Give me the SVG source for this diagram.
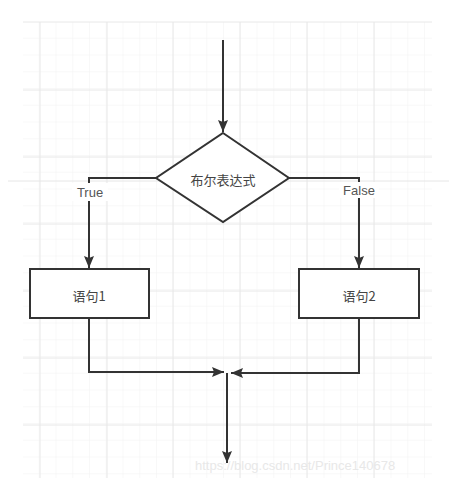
<svg xmlns="http://www.w3.org/2000/svg" width="449" height="483" viewBox="0 0 449 483">
<defs>
<style>
.minor{stroke:#f2f2f2;stroke-width:1}
.major{stroke:#e8e8e8;stroke-width:1}
.shape{fill:#ffffff;stroke:#333333;stroke-width:2}
.conn{fill:none;stroke:#333333;stroke-width:2}
.lbl{font-family:"Noto Sans CJK SC","Liberation Sans",sans-serif;font-size:13px;fill:#444444;text-anchor:middle;dominant-baseline:central}
.elbl{font-family:"Liberation Sans","Noto Sans",sans-serif;font-size:13px;fill:#555555;text-anchor:middle;dominant-baseline:central}
.wm{font-family:"Liberation Sans",sans-serif;font-size:13px;fill:#e8e8e8}
</style>
<pattern id="gridMinor" x="23" y="22" width="16.75" height="16.75" patternUnits="userSpaceOnUse">
<path d="M16.75 0V16.75M0 16.75H16.75" class="minor" fill="none"/>
</pattern>
<marker id="arrow" viewBox="0 0 12 10" refX="12" refY="5" markerWidth="12" markerHeight="10" markerUnits="userSpaceOnUse" orient="auto">
<path d="M0 0L12 5L0 10L2 5Z" fill="#333333"/>
</marker>
</defs>
<rect width="449" height="483" fill="#ffffff"/>
<g id="grid">
<rect x="23" y="22" width="409" height="456" fill="url(#gridMinor)"/>
<path class="major" fill="none" d="M40 22V478M107 22V478M173 22V478M240 22V478M307 22V478M374 22V478M23 22H432M23 90H432M23 157H432M23 224H432M23 291H432M23 358H432M23 425H432"/>
<line x1="8" y1="181" x2="449" y2="181" stroke="#e6e6e6" stroke-width="1"/>
</g>
<g id="connectors">
<path class="conn" d="M223 40V132" marker-end="url(#arrow)"/>
<path class="conn" d="M156 178H89V268" marker-end="url(#arrow)"/>
<path class="conn" d="M289 178H359V268" marker-end="url(#arrow)"/>
<path class="conn" d="M89 318V372H224" marker-end="url(#arrow)"/>
<path class="conn" d="M359 318V373H231" marker-end="url(#arrow)"/>
<path class="conn" d="M227 373V463" marker-end="url(#arrow)"/>
<rect x="72" y="183" width="36" height="18" fill="#ffffff"/>
<text class="elbl" x="90" y="192">True</text>
<rect x="339" y="182" width="40" height="16" fill="#ffffff"/>
<text class="elbl" x="359" y="190">False</text>
</g>
<g id="decision">
<polygon class="shape" points="223,133 289,178 223,222 156,178"/>
<text class="lbl" x="223" y="179">布尔表达式</text>
</g>
<g id="stmt1">
<rect class="shape" x="30" y="269" width="119" height="49"/>
<text class="lbl" x="89" y="295">语句1</text>
</g>
<g id="stmt2">
<rect class="shape" x="299" y="269" width="120" height="49"/>
<text class="lbl" x="359" y="295">语句2</text>
</g>
<text class="wm" x="195" y="470">https://blog.csdn.net/Prince140678</text>
</svg>
